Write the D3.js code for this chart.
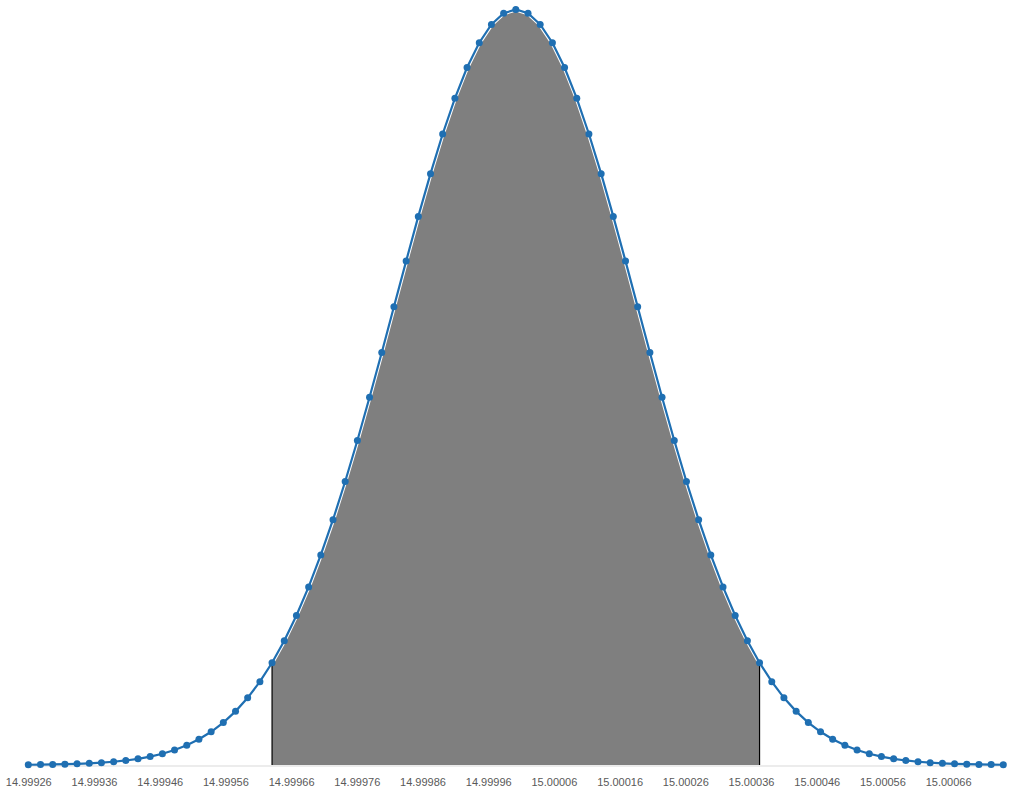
<!DOCTYPE html>
<html>
<head>
<meta charset="utf-8">
<script src="https://cdn.jsdelivr.net/npm/d3@7"></script>
<style>
    body { margin: 0; background: #fff; }
    #chart { display: block; }
</style>
</head>
<body>
<svg id="chart"></svg>
<script>
// measurement values (x) and density (y), mean 15, sigma ~0.0001855
const xValues = [
    14.9992580, 14.9992766, 14.9992951, 14.9993137, 14.9993322, 14.9993508, 14.9993693, 14.9993879,
    14.9994064, 14.9994250, 14.9994435, 14.9994621, 14.9994806, 14.9994992, 14.9995177, 14.9995363,
    14.9995548, 14.9995734, 14.9995919, 14.9996105, 14.9996290, 14.9996476, 14.9996661, 14.9996847,
    14.9997032, 14.9997218, 14.9997403, 14.9997589, 14.9997774, 14.9997960, 14.9998145, 14.9998331,
    14.9998516, 14.9998702, 14.9998887, 14.9999073, 14.9999258, 14.9999444, 14.9999629, 14.9999815,
    15.0000000,
    15.0000186, 15.0000371, 15.0000557, 15.0000742, 15.0000928, 15.0001113, 15.0001299, 15.0001484,
    15.0001670, 15.0001855, 15.0002041, 15.0002226, 15.0002412, 15.0002597, 15.0002783, 15.0002968,
    15.0003154, 15.0003339, 15.0003525, 15.0003710, 15.0003896, 15.0004081, 15.0004267, 15.0004452,
    15.0004638, 15.0004823, 15.0005009, 15.0005194, 15.0005380, 15.0005565, 15.0005751, 15.0005936,
    15.0006122, 15.0006307, 15.0006493, 15.0006678, 15.0006864, 15.0007049, 15.0007235, 15.0007420
];

const densityValues = [
    0.7, 1.1, 1.6, 2.3, 3.3, 4.7, 6.6, 9.3, 12.9, 17.6,
    23.9, 32.1, 42.7, 56.2, 73.2, 94.5, 120.7, 152.7, 191.2, 237.1,
    291.1, 353.7, 425.6, 507.0, 598.0, 698.2, 807.1, 923.8, 1046.8, 1174.4,
    1304.4, 1434.4, 1561.7, 1683.3, 1796.3, 1897.9, 1985.3, 2056.0, 2108.0, 2139.9,
    2150.6,
    2139.9, 2108.0, 2056.0, 1985.3, 1897.9, 1796.3, 1683.3, 1561.7, 1434.4, 1304.4,
    1174.4, 1046.8, 923.8, 807.1, 698.2, 598.0, 507.0, 425.6, 353.7, 291.1,
    237.1, 191.2, 152.7, 120.7, 94.5, 73.2, 56.2, 42.7, 32.1, 23.9,
    17.6, 12.9, 9.3, 6.6, 4.7, 3.3, 2.3, 1.6, 1.1, 0.7
];

const tickValues = [
    14.999258, 14.999358, 14.999458, 14.999558, 14.999658, 14.999758, 14.999858, 14.999958,
    15.000058, 15.000158, 15.000258, 15.000358, 15.000458, 15.000558, 15.000658
];

// shaded band (mean +/- 2 sigma)
const shadeLow = 14.999629;
const shadeHigh = 15.000371;

const width = 1030;
const height = 793;

const svg = d3.select("#chart")
    .attr("width", width)
    .attr("height", height);

const points = xValues.map((x, i) => ({x: x, y: densityValues[i]}));

const x = d3.scaleLinear()
    .domain([xValues[0], xValues[xValues.length - 1]])
    .range([28.3, 1003.3]);

const y = d3.scaleLinear()
    .domain([0, d3.max(densityValues)])
    .range([765, 9.5]);

// axis
const axis = svg.append("g")
    .attr("transform", "translate(0,765.5)")
    .call(d3.axisBottom(x)
        .tickValues(tickValues)
        .tickFormat(d3.format(".5f"))
        .tickSize(0)
        .tickPadding(13));

axis.select(".domain").attr("stroke", "#d9d9d9").attr("stroke-width", 1);
axis.selectAll("text")
    .attr("fill", "#595959")
    .attr("font-size", 11)
    .attr("font-family", "Liberation Sans, Arial, sans-serif");

// shaded area
const shaded = points.filter(d => d.x >= shadeLow - 1e-9 && d.x <= shadeHigh + 1e-9);

svg.append("path")
    .datum(shaded)
    .attr("fill", "#7f7f7f")
    .attr("d", d3.area().x(d => x(d.x)).y0(y(0)).y1(d => y(d.y)));

// thin white rim under the curve
svg.append("path")
    .datum(shaded)
    .attr("fill", "none")
    .attr("stroke", "#ffffff")
    .attr("stroke-width", 4.2)
    .attr("d", d3.line().x(d => x(d.x)).y(d => y(d.y)));

// black edges of the band
svg.selectAll(".edge")
    .data([shaded[0], shaded[shaded.length - 1]])
    .enter().append("line")
    .attr("class", "edge")
    .attr("x1", d => x(d.x))
    .attr("x2", d => x(d.x))
    .attr("y1", y(0))
    .attr("y2", d => y(d.y))
    .attr("stroke", "#000")
    .attr("stroke-width", 1.2);

// curve
svg.append("path")
    .datum(points)
    .attr("fill", "none")
    .attr("stroke", "#1f6fb2")
    .attr("stroke-width", 2.2)
    .attr("d", d3.line().x(d => x(d.x)).y(d => y(d.y)));

svg.selectAll(".dot")
    .data(points)
    .enter().append("circle")
    .attr("class", "dot")
    .attr("cx", d => x(d.x))
    .attr("cy", d => y(d.y))
    .attr("r", 3.5)
    .attr("fill", "#1f6fb2");
</script>
</body>
</html>
